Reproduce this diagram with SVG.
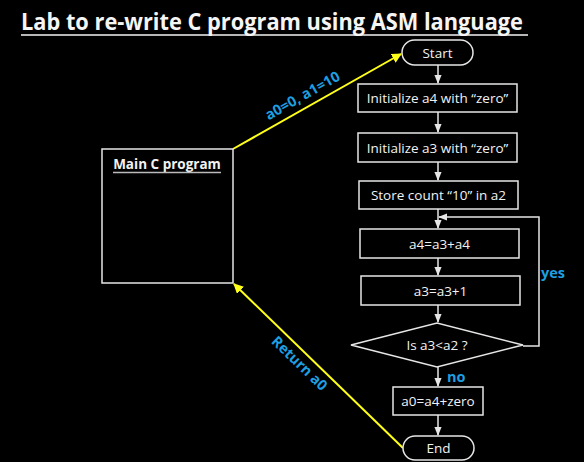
<svg xmlns="http://www.w3.org/2000/svg" width="584" height="462" viewBox="0 0 584 462">
<style>
.box{fill:#000;stroke:#e6e6e6;stroke-width:1.5}
.t{font-family:"Open Sans","Liberation Sans",sans-serif;font-size:13.5px;fill:#f2f2f2;text-anchor:middle;dominant-baseline:central}
.lbl{font-family:"Open Sans","Liberation Sans",Arial,sans-serif;font-weight:bold;font-size:14.5px;fill:#1e9fe0}
.c{stroke:#e6e6e6;stroke-width:1.5;fill:none}
.y{stroke:#ffff1a;stroke-width:2;fill:none}
</style>
<defs>
<marker id="aw" viewBox="0 0 10 10" refX="9" refY="5" markerWidth="6" markerHeight="6" orient="auto"><path d="M0,1 L10,5 L0,9 z" fill="#e6e6e6"/></marker>
<marker id="ay" viewBox="0 0 10 10" refX="9" refY="5" markerWidth="5" markerHeight="5" orient="auto"><path d="M0,0 L10,5 L0,10 z" fill="#ffff1a"/></marker>
</defs>
<rect width="584" height="462" fill="#000"/>
<g id="title">
<text x="21" y="30" font-family="'Open Sans','Liberation Sans',sans-serif" font-weight="bold" font-size="24" fill="#f5f5f5" textLength="502" lengthAdjust="spacingAndGlyphs">Lab to re-write C program using ASM language</text>
<line x1="21" y1="35" x2="528" y2="35" stroke="#f5f5f5" stroke-width="1.5"/>
</g>
<g id="connectors">
<line class="c" x1="438" y1="65" x2="438" y2="83" marker-end="url(#aw)"/>
<line class="c" x1="438" y1="112" x2="438" y2="132" marker-end="url(#aw)"/>
<line class="c" x1="438" y1="162" x2="438" y2="180" marker-end="url(#aw)"/>
<line class="c" x1="438" y1="209" x2="438" y2="228" marker-end="url(#aw)"/>
<line class="c" x1="438" y1="258" x2="438" y2="275" marker-end="url(#aw)"/>
<line class="c" x1="438" y1="305" x2="438" y2="322" marker-end="url(#aw)"/>
<line class="c" x1="438" y1="367" x2="438" y2="386" marker-end="url(#aw)"/>
<line class="c" x1="438" y1="415" x2="438" y2="435" marker-end="url(#aw)"/>
<polyline class="c" points="523,346 539,346 539,217 439,217" marker-end="url(#aw)"/>
<line class="y" x1="233" y1="149" x2="401" y2="54" marker-end="url(#ay)"/>
<line class="y" x1="403" y1="448" x2="234" y2="284" marker-end="url(#ay)"/>
<text class="lbl" x="0" y="0" text-anchor="middle" transform="translate(305,100) rotate(-29.6)">a0=0, a1=10</text>
<text class="lbl" x="0" y="0" text-anchor="middle" transform="translate(296,367) rotate(44)">Return a0</text>
<text class="lbl" x="541" y="278">yes</text>
<text class="lbl" x="447" y="382">no</text>
</g>
<g id="main">
<rect class="box" x="102" y="149" width="131" height="134" stroke-width="2" stroke="#f0f0f0"/>
<text x="167" y="169" font-family="'Open Sans','Liberation Sans',sans-serif" font-weight="bold" font-size="13.5" fill="#f2f2f2" text-anchor="middle">Main C program</text>
<line x1="113" y1="172.5" x2="221" y2="172.5" stroke="#bbb" stroke-width="1.3"/>
</g>
<g id="start"><rect class="box" x="402" y="40" width="71" height="25" rx="12.5"/><text class="t" x="437.5" y="52.5">Start</text></g>
<g id="init_a4"><rect class="box" x="358" y="84" width="159" height="28"/><text class="t" x="437.5" y="98">Initialize a4 with “zero”</text></g>
<g id="init_a3"><rect class="box" x="358" y="133" width="159" height="29"/><text class="t" x="437.5" y="147.5">Initialize a3 with “zero”</text></g>
<g id="store"><rect class="box" x="359" y="181" width="159" height="28"/><text class="t" x="438.5" y="195">Store count “10” in a2</text></g>
<g id="add"><rect class="box" x="360" y="229" width="159" height="29"/><text class="t" x="439.5" y="243.5">a4=a3+a4</text></g>
<g id="inc"><rect class="box" x="361" y="276" width="159" height="29"/><text class="t" x="440.5" y="290.5">a3=a3+1</text></g>
<g id="cond"><polygon class="box" points="351,345 437,323 523,345 437,367"/><text class="t" x="437" y="345">Is a3&lt;a2 ?</text></g>
<g id="result"><rect class="box" x="393" y="387" width="90" height="28"/><text class="t" x="438" y="401">a0=a4+zero</text></g>
<g id="end"><rect class="box" x="403" y="436" width="71" height="24" rx="12"/><text class="t" x="438.5" y="448">End</text></g>
</svg>
